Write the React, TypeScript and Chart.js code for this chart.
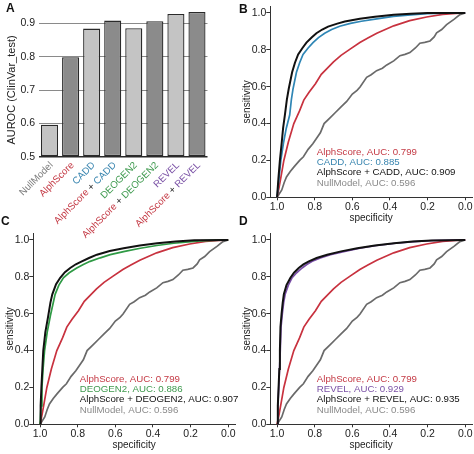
import React, { useEffect, useRef } from 'react';
import { Chart, registerables } from 'chart.js';

Chart.register(...registerables);

const FONT = "'Liberation Sans', Arial, Helvetica, sans-serif";

// --- panel A: AUROC bars ---
const categories = [
  'NullModel',
  'AlphScore',
  'CADD',
  'AlphScore + CADD',
  'DEOGEN2',
  'AlphScore + DEOGEN2',
  'REVEL',
  'AlphScore + REVEL',
];
const aurocValues = [0.596, 0.799, 0.885, 0.909, 0.886, 0.907, 0.929, 0.935];
const aurocTicks = [0.5, 0.6, 0.7, 0.8, 0.9];

// --- ROC curves: [specificity, sensitivity] ---
const rocTicks = [0, 0.2, 0.4, 0.6, 0.8, 1.0];

const alphScoreRoc: [number, number][] = [
  [1, 0], [0.99, 0.05], [0.98, 0.107], [0.964, 0.2], [0.94, 0.3], [0.911, 0.4],
  [0.88, 0.47], [0.858, 0.527], [0.83, 0.57], [0.796, 0.616], [0.765, 0.667], [0.743, 0.69],
  [0.7, 0.735], [0.66, 0.77], [0.61, 0.805], [0.56, 0.84], [0.515, 0.865], [0.47, 0.89],
  [0.38, 0.93], [0.295, 0.958], [0.205, 0.978], [0.12, 0.992], [0.05, 0.998], [0, 1],
];

const nullModelRoc: [number, number][] = [
  [1, 0], [0.975, 0.04], [0.962, 0.08], [0.95, 0.11], [0.93, 0.14], [0.91, 0.165],
  [0.88, 0.2], [0.86, 0.22], [0.835, 0.26], [0.81, 0.29], [0.79, 0.32], [0.77, 0.35],
  [0.75, 0.4], [0.72, 0.43], [0.69, 0.46], [0.66, 0.49], [0.63, 0.52], [0.6, 0.56],
  [0.575, 0.58], [0.559, 0.598], [0.524, 0.651], [0.5, 0.665], [0.471, 0.687],
  [0.44, 0.7], [0.417, 0.718], [0.38, 0.74], [0.347, 0.768], [0.32, 0.775], [0.294, 0.785],
  [0.265, 0.81], [0.241, 0.836], [0.215, 0.84], [0.187, 0.848], [0.165, 0.87], [0.152, 0.892],
  [0.125, 0.91], [0.099, 0.937], [0.06, 0.965], [0.028, 0.991], [0, 1],
];

const caddRoc: [number, number][] = [
  [1, 0], [0.99, 0.1], [0.98, 0.2], [0.965, 0.3], [0.951, 0.375], [0.933, 0.446],
  [0.924, 0.53], [0.915, 0.589], [0.897, 0.678], [0.88, 0.73], [0.862, 0.775], [0.835, 0.81],
  [0.809, 0.839], [0.78, 0.866], [0.747, 0.89], [0.71, 0.91], [0.667, 0.928], [0.61, 0.943],
  [0.552, 0.955], [0.47, 0.968], [0.382, 0.981], [0.29, 0.99], [0.205, 0.996], [0.1, 0.999], [0, 1],
];

const alphCaddRoc: [number, number][] = [
  [1, 0], [0.993, 0.1], [0.985, 0.2], [0.975, 0.3], [0.968, 0.375], [0.958, 0.45],
  [0.948, 0.53], [0.938, 0.589], [0.92, 0.678], [0.905, 0.73], [0.888, 0.775], [0.865, 0.81],
  [0.844, 0.839], [0.815, 0.868], [0.791, 0.89], [0.76, 0.91], [0.729, 0.926], [0.68, 0.942],
  [0.64, 0.954], [0.56, 0.968], [0.48, 0.979], [0.38, 0.99], [0.29, 0.996], [0.2, 0.999], [0, 1],
];

const deogenRoc: [number, number][] = [
  [1, 0], [0.995, 0.1], [0.99, 0.2], [0.984, 0.3], [0.976, 0.4], [0.962, 0.5],
  [0.945, 0.59], [0.92, 0.705], [0.9, 0.755], [0.876, 0.795], [0.845, 0.822], [0.805, 0.848],
  [0.77, 0.867], [0.734, 0.884], [0.68, 0.903], [0.627, 0.92], [0.55, 0.938], [0.467, 0.955],
  [0.38, 0.97], [0.29, 0.982], [0.15, 0.995], [0.05, 0.999], [0, 1],
];

const alphDeogenRoc: [number, number][] = [
  [1, 0], [0.997, 0.1], [0.993, 0.2], [0.988, 0.3], [0.983, 0.4], [0.972, 0.5],
  [0.958, 0.58], [0.945, 0.66], [0.935, 0.705], [0.915, 0.76], [0.893, 0.795], [0.868, 0.825],
  [0.84, 0.848], [0.81, 0.868], [0.778, 0.884], [0.74, 0.902], [0.698, 0.92], [0.63, 0.94],
  [0.556, 0.955], [0.47, 0.97], [0.378, 0.982], [0.28, 0.992], [0.18, 0.998], [0, 1],
];

const revelRoc: [number, number][] = [
  [1, 0], [0.996, 0.1], [0.991, 0.2], [0.987, 0.3], [0.983, 0.4], [0.979, 0.527],
  [0.972, 0.6], [0.965, 0.66], [0.957, 0.705], [0.94, 0.755], [0.92, 0.795], [0.896, 0.822],
  [0.867, 0.848], [0.842, 0.867], [0.813, 0.884], [0.77, 0.902], [0.716, 0.92], [0.64, 0.938],
  [0.56, 0.955], [0.47, 0.97], [0.37, 0.982], [0.27, 0.991], [0.17, 0.997], [0, 1],
];

const alphRevelRoc: [number, number][] = [
  [1, 0], [0.996, 0.1], [0.992, 0.2], [0.988, 0.3], [0.985, 0.4], [0.982, 0.527],
  [0.976, 0.6], [0.97, 0.66], [0.964, 0.705], [0.95, 0.755], [0.929, 0.795], [0.91, 0.822],
  [0.885, 0.848], [0.86, 0.867], [0.831, 0.884], [0.79, 0.902], [0.734, 0.92], [0.66, 0.938],
  [0.574, 0.955], [0.48, 0.97], [0.378, 0.982], [0.28, 0.991], [0.18, 0.997], [0, 1],
];

const toolColors: Record<string, string> = {
  NullModel: '#7c7c7c',
  AlphScore: '#c43a45',
  CADD: '#3a86b0',
  DEOGEN2: '#3f9a4f',
  REVEL: '#7b52a6',
};

type Curve = { label: string; auc: number; color: string; text: string; width: number; data: [number, number][] };

const alphCurve: Curve = { label: 'AlphScore', auc: 0.799, color: '#c8323f', text: toolColors.AlphScore, width: 1.7, data: alphScoreRoc };
const nullCurve: Curve = { label: 'NullModel', auc: 0.596, color: '#6a6a6a', text: '#8a8a8a', width: 1.7, data: nullModelRoc };

// legend order: AlphScore, tool, combination, NullModel
const panelB: Curve[] = [
  alphCurve,
  { label: 'CADD', auc: 0.885, color: '#2f86b5', text: toolColors.CADD, width: 1.7, data: caddRoc },
  { label: 'AlphScore + CADD', auc: 0.909, color: '#111', text: '#111', width: 2, data: alphCaddRoc },
  nullCurve,
];
const panelC: Curve[] = [
  alphCurve,
  { label: 'DEOGEN2', auc: 0.886, color: '#2f9a45', text: toolColors.DEOGEN2, width: 1.7, data: deogenRoc },
  { label: 'AlphScore + DEOGEN2', auc: 0.907, color: '#111', text: '#111', width: 2, data: alphDeogenRoc },
  nullCurve,
];
const panelD: Curve[] = [
  alphCurve,
  { label: 'REVEL', auc: 0.929, color: '#7a4ea8', text: toolColors.REVEL, width: 1.7, data: revelRoc },
  { label: 'AlphScore + REVEL', auc: 0.935, color: '#111', text: '#111', width: 2, data: alphRevelRoc },
  nullCurve,
];

const BarPanel: React.FC = () => {
  const chartRef = useRef<HTMLCanvasElement | null>(null);

  useEffect(() => {
    if (!chartRef.current) return;
    const ctx = chartRef.current.getContext('2d');
    if (!ctx) return;

    // coloured, rotated category labels + y title
    const labelPlugin = {
      id: 'barLabels',
      afterDraw(chart: any) {
        const { ctx: c, chartArea, scales } = chart;
        c.save();
        c.font = `9.7px ${FONT}`;
        c.textBaseline = 'middle';
        c.textAlign = 'left';
        categories.forEach((cat, i) => {
          const parts = cat.split(' + ');
          const pieces: [string, string][] =
            parts.length === 2
              ? [[parts[0], toolColors[parts[0]]], [' + ', '#222'], [parts[1], toolColors[parts[1]]]]
              : [[cat, toolColors[cat]]];
          c.save();
          c.translate(scales.x.getPixelForValue(i) + 2, chartArea.bottom + 7);
          c.rotate(-Math.PI / 4);
          let cx = 0;
          for (let k = pieces.length - 1; k >= 0; k--) {
            const [t, col] = pieces[k];
            cx -= c.measureText(t).width;
            c.fillStyle = col;
            c.fillText(t, cx, 0);
          }
          c.restore();
        });
        c.translate(12, 90);
        c.rotate(-Math.PI / 2);
        c.textAlign = 'center';
        c.fillStyle = '#222';
        c.font = `11px ${FONT}`;
        c.fillText('AUROC (ClinVar_test)', 0, 0);
        c.restore();
      },
    };

    const chart = new Chart(ctx, {
      type: 'bar',
      data: {
        labels: categories,
        datasets: [
          {
            data: aurocValues,
            base: 0.5,
            backgroundColor: categories.map((c) => (c.includes('AlphScore') ? '#8b8b8b' : '#c4c4c4')),
            borderColor: '#2a2a2a',
            borderWidth: 1.3,
            borderSkipped: false,
            barPercentage: 0.81,
            categoryPercentage: 1,
          },
        ],
      },
      options: {
        animation: false,
        responsive: false,
        layout: { padding: { top: 2.7, right: 29.5, left: 0, bottom: 0 } },
        plugins: { legend: { display: false }, tooltip: { enabled: false } },
        scales: {
          x: {
            ticks: { display: false },
            grid: { display: false },
            border: { display: false },
            afterFit: (s: any) => {
              s.height = 245 - 156.7;
            },
          },
          y: {
            min: 0.5,
            max: 0.94,
            afterBuildTicks: (axis: any) => {
              axis.ticks = aurocTicks.map((v) => ({ value: v }));
            },
            ticks: {
              padding: 4,
              color: '#222',
              font: { family: FONT, size: 10.5 },
              callback: (v: any) => Number(v).toFixed(1),
            },
            grid: {
              drawTicks: false,
              color: (c: any) => (c.tick && c.tick.value === 0.5 ? '#2a2a2a' : '#8a8a8a'),
              lineWidth: (c: any) => (c.tick && c.tick.value === 0.5 ? 1.5 : 1),
            },
            border: { display: false },
            afterFit: (s: any) => {
              s.width = 39;
            },
          },
        },
      },
      plugins: [labelPlugin],
    } as any);

    return () => {
      chart.destroy();
    };
  }, []);

  return (
    <canvas
      ref={chartRef}
      width={237}
      height={245}
      style={{ position: 'absolute', left: 0, top: 0, width: 237, height: 245 }}
    />
  );
};

interface RocProps {
  left: number;
  top: number;
  curves: Curve[];
}

const RocPanel: React.FC<RocProps> = ({ left, top, curves }) => {
  const chartRef = useRef<HTMLCanvasElement | null>(null);

  useEffect(() => {
    if (!chartRef.current) return;
    const ctx = chartRef.current.getContext('2d');
    if (!ctx) return;

    const legendPlugin = {
      id: 'rocLegend',
      afterDraw(chart: any) {
        const { ctx: c, scales } = chart;
        c.save();
        c.font = `9.7px ${FONT}`;
        c.textBaseline = 'middle';
        c.textAlign = 'left';
        const x0 = scales.x.getPixelForValue(0.789);
        const y0 = scales.y.getPixelForValue(0.246);
        curves.forEach((cv, i) => {
          c.fillStyle = cv.text;
          c.fillText(`${cv.label}, AUC: ${cv.auc.toFixed(3)}`, x0, y0 + i * 10.3);
        });
        c.restore();
      },
    };

    // draw order: combination on top, then tool, AlphScore, NullModel
    const drawOrder = [curves[2], curves[1], curves[0], curves[3]];

    const tickFont = { family: FONT, size: 10.5 };
    const chart = new Chart(ctx, {
      type: 'scatter',
      data: {
        datasets: drawOrder.map((cv) => ({
          label: cv.label,
          data: cv.data.map(([s, t]) => ({ x: s, y: t })),
          showLine: true,
          borderColor: cv.color,
          borderWidth: cv.width,
          pointRadius: 0,
          tension: 0,
        })),
      },
      options: {
        animation: false,
        responsive: false,
        layout: { padding: { top: 5, right: 15, left: 0, bottom: 0 } },
        plugins: { legend: { display: false }, tooltip: { enabled: false } },
        scales: {
          x: {
            type: 'linear',
            reverse: true,
            min: -0.036,
            max: 1.036,
            afterBuildTicks: (axis: any) => {
              axis.ticks = rocTicks.map((v) => ({ value: v }));
            },
            ticks: {
              padding: 1,
              maxRotation: 0,
              color: '#222',
              font: tickFont,
              callback: (v: any) => Number(v).toFixed(1),
            },
            grid: { drawOnChartArea: false, drawTicks: true, tickLength: 3, color: '#333' },
            border: { display: true, color: '#333', width: 1 },
            title: {
              display: true,
              text: 'specificity',
              color: '#222',
              font: { family: FONT, size: 10 },
              padding: { top: 0, bottom: 3 },
            },
            afterFit: (s: any) => {
              s.height = 29.7;
            },
          },
          y: {
            type: 'linear',
            min: 0,
            max: 1.036,
            afterBuildTicks: (axis: any) => {
              axis.ticks = rocTicks.map((v) => ({ value: v }));
            },
            ticks: {
              padding: 0,
              color: '#222',
              font: tickFont,
              callback: (v: any) => Number(v).toFixed(1),
            },
            grid: { drawOnChartArea: false, drawTicks: true, tickLength: 4, color: '#333' },
            border: { display: true, color: '#333', width: 1 },
            title: {
              display: true,
              text: 'sensitivity',
              color: '#222',
              font: { family: FONT, size: 10 },
              padding: { top: 4.5, bottom: 0 },
            },
            afterFit: (s: any) => {
              s.width = 33.3;
            },
          },
        },
      },
      plugins: [legendPlugin],
    } as any);

    return () => {
      chart.destroy();
    };
  }, [curves]);

  return (
    <canvas
      ref={chartRef}
      width={250}
      height={227}
      style={{ position: 'absolute', left, top, width: 250, height: 227 }}
    />
  );
};

const letterStyle = (left: number, top: number): React.CSSProperties => ({
  position: 'absolute',
  left,
  top,
  fontFamily: FONT,
  fontWeight: 'bold',
  fontSize: 12,
  lineHeight: '12px',
  color: '#111',
  zIndex: 5,
});

export default function App() {
  return (
    <div
      style={{
        position: 'absolute',
        left: 0,
        top: 0,
        width: 474,
        height: 454,
        overflow: 'hidden',
        background: '#fff',
      }}
    >
      <RocPanel left={0} top={227} curves={panelC} />
      <RocPanel left={237} top={227} curves={panelD} />
      <RocPanel left={237} top={0} curves={panelB} />
      <BarPanel />
      <div style={letterStyle(6, 2)}>A</div>
      <div style={letterStyle(239, 3)}>B</div>
      <div style={letterStyle(1, 215)}>C</div>
      <div style={letterStyle(239, 215)}>D</div>
    </div>
  );
}
